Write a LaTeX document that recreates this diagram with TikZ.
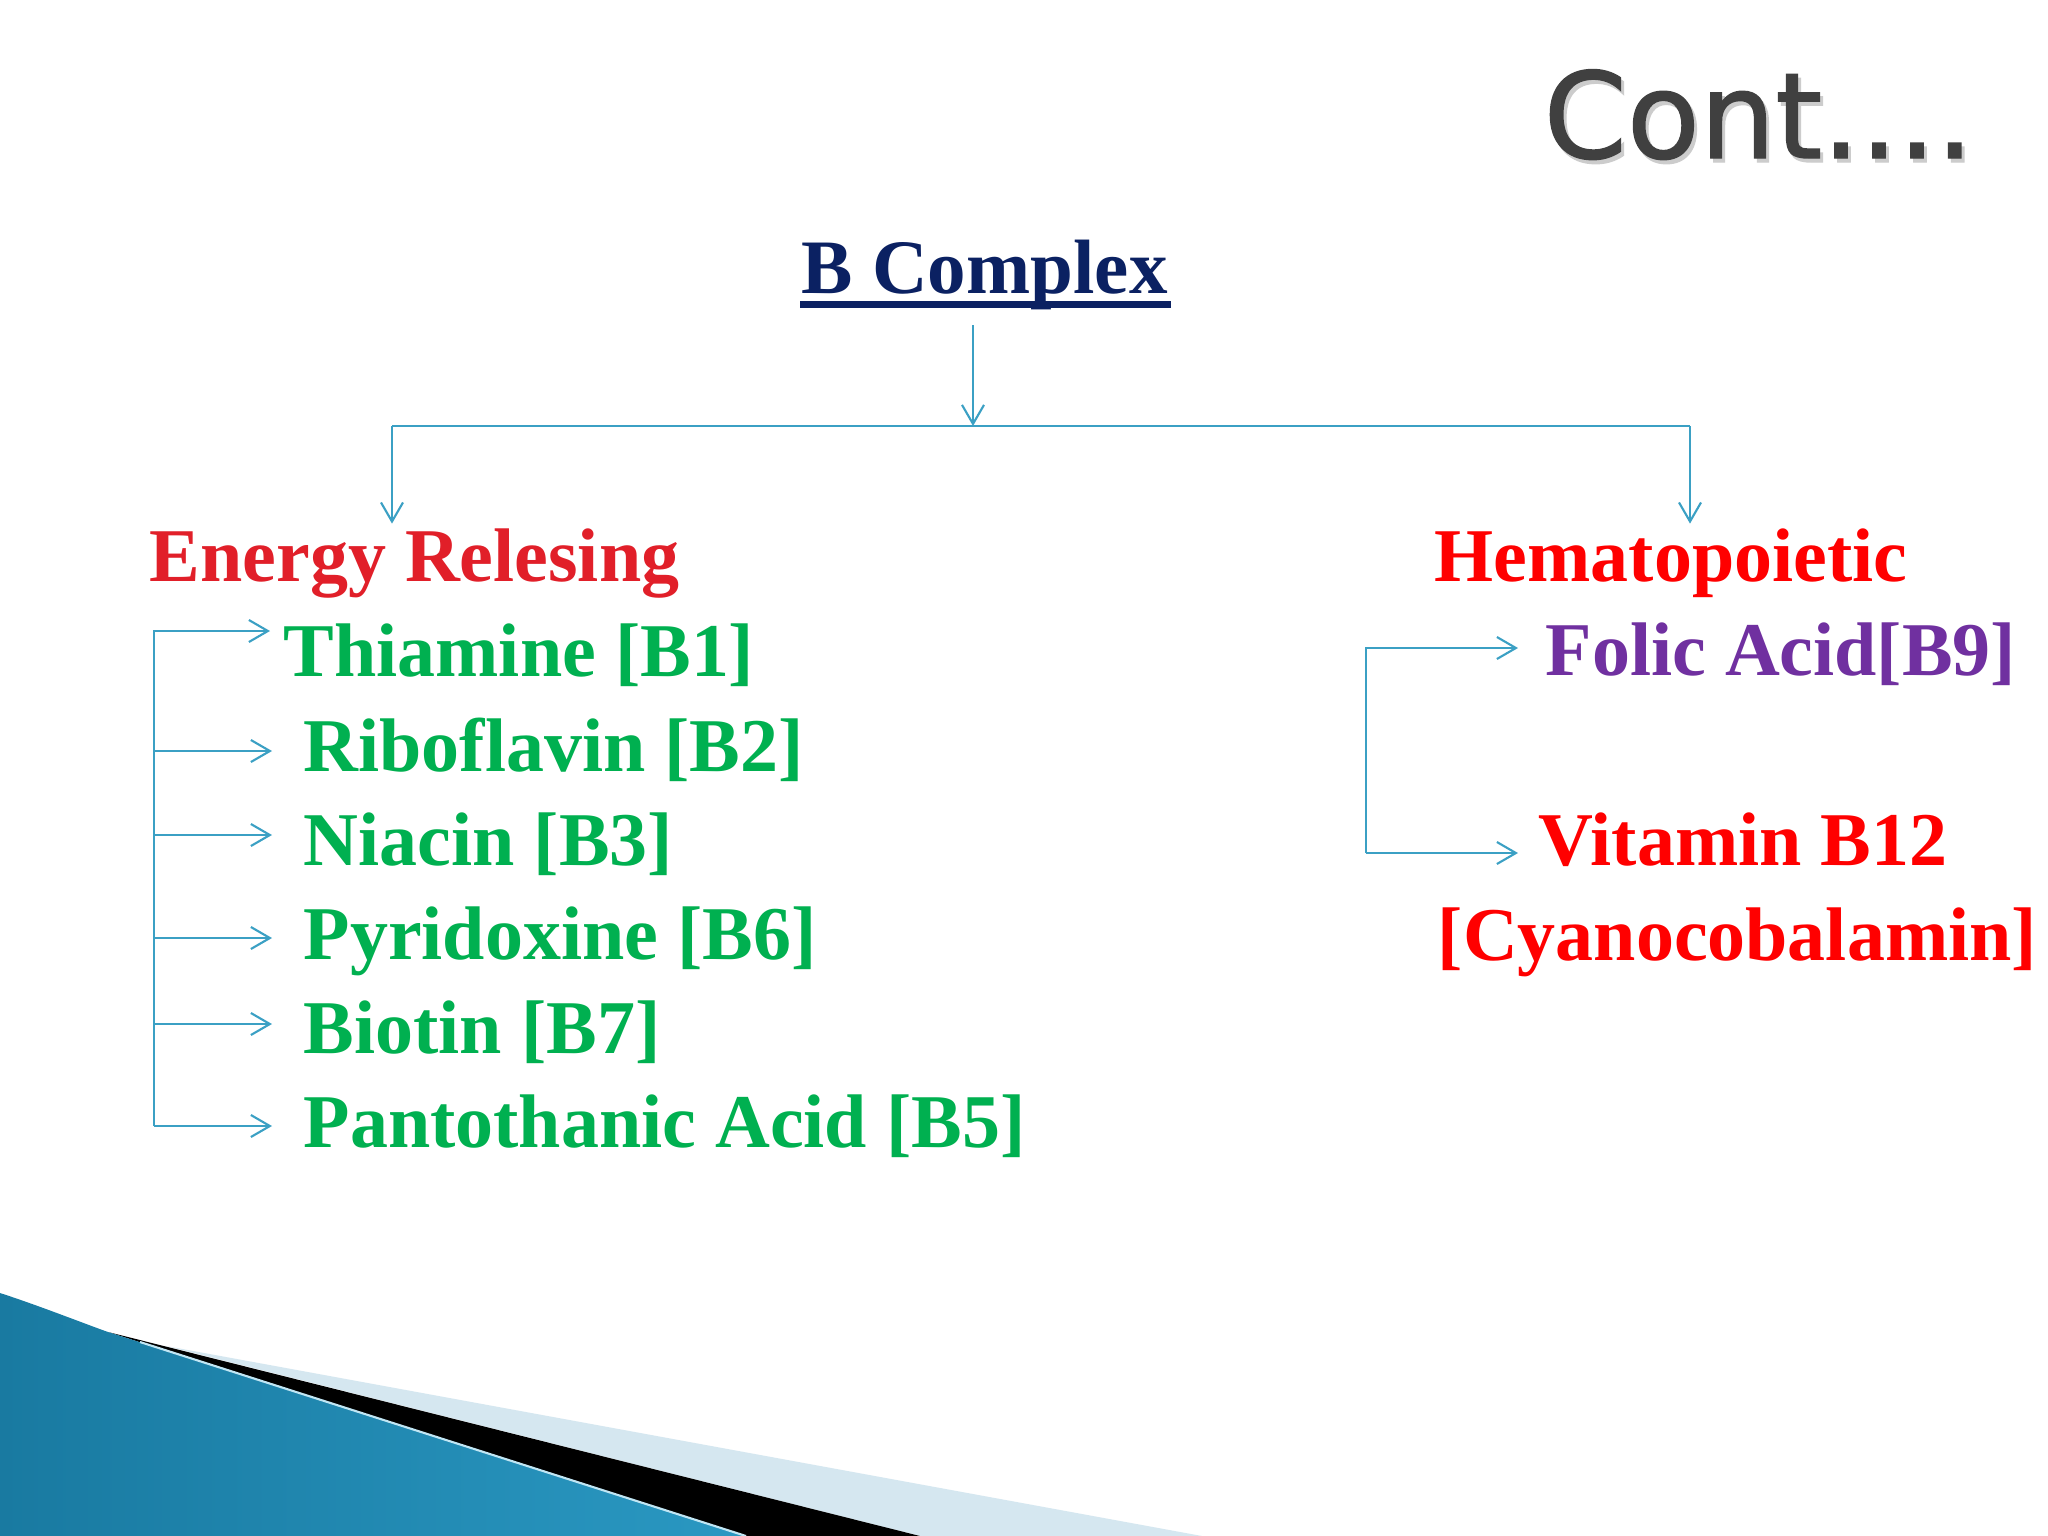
\documentclass[tikz,border=0pt]{standalone}
\usepackage{fontspec}
\setmainfont{Liberation Serif}
\newfontfamily\contfont[FakeBold=1.2]{DejaVu Sans}
\usetikzlibrary{arrows.meta}
\definecolor{navyc}{HTML}{0B2162}
\definecolor{crim}{HTML}{E11F29}
\definecolor{vgreen}{HTML}{00B050}
\definecolor{vpurple}{HTML}{7030A0}
\definecolor{arrowc}{HTML}{3BA0C4}
\definecolor{titlec}{HTML}{404040}
\definecolor{paleblue}{HTML}{D5E7F0}
\definecolor{blueA}{HTML}{197AA1}
\definecolor{blueB}{HTML}{62C0E2}
\definecolor{blueC}{HTML}{2A98C2}
\begin{document}
\begin{tikzpicture}[x=0.01cm,y=-0.01cm,
  lbl/.style={anchor=base west, inner ysep=0pt, inner xsep=0pt,
              font=\fontsize{21.6pt}{26pt}\selectfont\bfseries},
  titlefont/.style={anchor=base west, inner sep=0pt,
              font=\contfont\fontsize{33.9pt}{40pt}\selectfont},
  arr/.style={draw=arrowc, line width=0.6pt, line join=miter,
              -{Straight Barb[length=0.19cm,width=0.22cm]}},
  conn/.style={draw=arrowc, line width=0.6pt}]
\useasboundingbox[fill=white] (0,0) rectangle (2048,1536);

% bottom-left decoration
\fill[paleblue] (166,1346) -- (1202,1536) -- (920,1536) -- cycle;
\fill[black] (108,1332) -- (920,1536) -- (746,1536) -- cycle;
\shade[left color=blueA, middle color=blueB, right color=blueC]
  (0,1293) .. controls (40,1306) and (80,1322) .. (108,1332) -- (746,1536) -- (0,1536) -- cycle;
\draw[blueB!40, line width=0.6pt] (140,1342) -- (746,1536);

% title
\node (contsh) [titlefont, text=black!20] at (1546,162) {Cont....};
\node (cont) [titlefont, text=titlec] at (1543,158) {Cont....};

% B Complex
\node (bc) [lbl, text=navyc, font=\fontsize{21.9pt}{26pt}\selectfont\bfseries] at (801,293) {B Complex};
\draw[navyc, line width=2.1pt] ([xshift=-0.01cm,yshift=-0.115cm]bc.base west) -- ([xshift=0.03cm,yshift=-0.115cm]bc.base east);

% level 1
\node (er) [lbl, text=crim, inner ysep=0.04cm] at (149,581) {Energy Relesing};
\node (hp) [lbl, text=red, inner ysep=0.04cm] at (1434,581) {Hematopoietic};

\coordinate (bcs) at (973,325);
\coordinate (jc) at (973,426);
\coordinate (jl) at (392,426);
\coordinate (jr) at (1690,426);
\draw[arr] (bcs) -- (jc);
\draw[conn] (jl) -- (jr);
\draw[arr] (jl) -- (jl |- er.north);
\draw[arr] (jr) -- (jr |- hp.north);

% left list
\node (th) [lbl, text=vgreen, inner xsep=0.13cm] at (270,676) {Thiamine [B1]};
\node (rf) [lbl, text=vgreen, inner xsep=0.31cm] at (272,771) {Riboflavin [B2]};
\node (ni) [lbl, text=vgreen, inner xsep=0.31cm] at (272,865) {Niacin [B3]};
\node (py) [lbl, text=vgreen, inner xsep=0.31cm] at (272,959) {Pyridoxine [B6]};
\node (bi) [lbl, text=vgreen, inner xsep=0.31cm] at (272,1053) {Biotin [B7]};
\node (pa) [lbl, text=vgreen, inner xsep=0.31cm] at (272,1147) {Pantothanic Acid [B5]};

\coordinate (l1) at (154,631);
\coordinate (l2) at (154,751);
\coordinate (l3) at (154,835);
\coordinate (l4) at (154,938);
\coordinate (l5) at (154,1024);
\coordinate (l6) at (154,1126);
\draw[arr] (l6) -- (l1) -- (l1 -| th.west);
\draw[arr] (l2) -- (l2 -| rf.west);
\draw[arr] (l3) -- (l3 -| ni.west);
\draw[arr] (l4) -- (l4 -| py.west);
\draw[arr] (l5) -- (l5 -| bi.west);
\draw[arr] (l6) -- (l6 -| pa.west);

% right list
\node (fa) [lbl, text=vpurple, inner xsep=0.27cm] at (1518,675) {Folic Acid[B9]};
\node (vb) [lbl, text=red, inner xsep=0.20cm] at (1518,865) {Vitamin B12};
\node (cy) [lbl, text=red] at (1437,960) {[Cyanocobalamin]};

\coordinate (r1) at (1366,648);
\coordinate (r2) at (1366,853);
\draw[arr] (r2) -- (r1) -- (r1 -| fa.west);
\draw[arr] (r2) -- (r2 -| vb.west);
\end{tikzpicture}
\end{document}
